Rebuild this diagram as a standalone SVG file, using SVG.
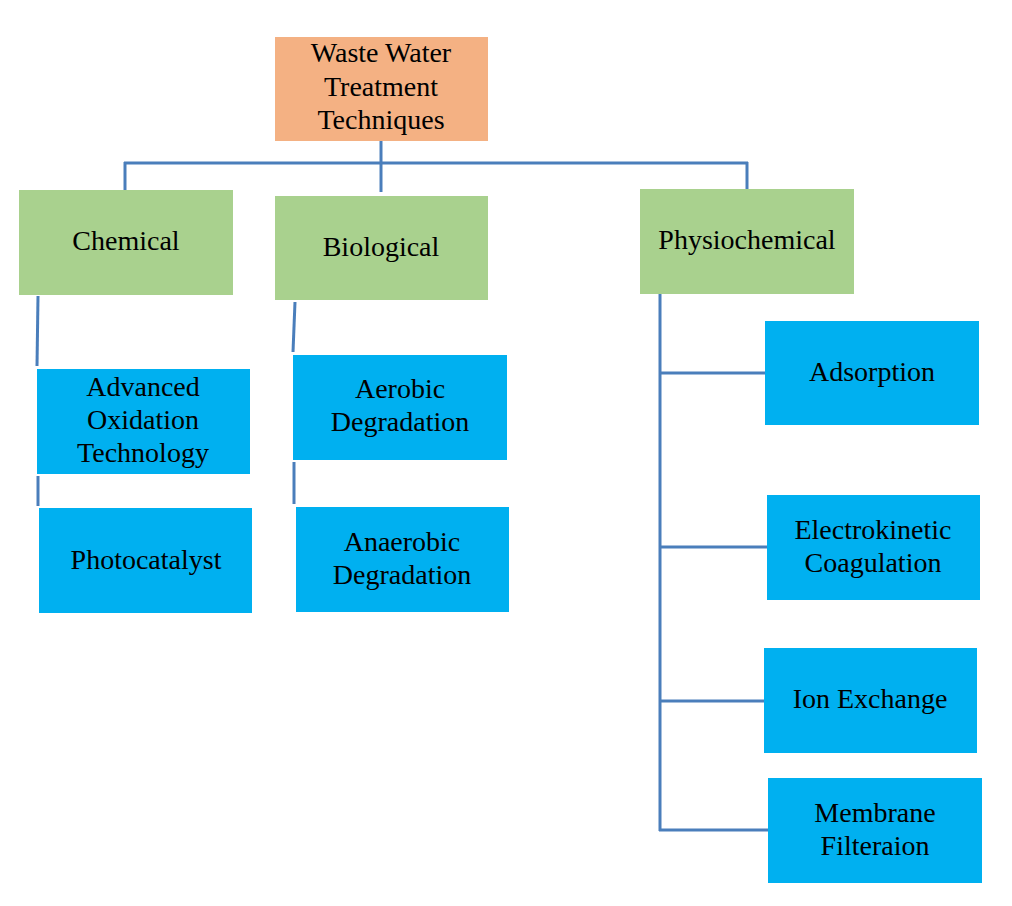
<svg xmlns="http://www.w3.org/2000/svg" width="1012" height="906" viewBox="0 0 1012 906">
<style>
text{font-family:"Liberation Serif","Times New Roman",serif;font-size:28px;fill:#000;text-anchor:middle}
.o{fill:#F4B183}.g{fill:#A9D18E}.b{fill:#00B0F0}
.c line{stroke:#4A7EBB;stroke-width:3;fill:none}
</style>
<rect width="1012" height="906" fill="#fff"/>
<g class="c" id="connectors">
<line x1="381" y1="141" x2="381" y2="192"/>
<line x1="124" y1="163" x2="748" y2="163"/>
<line x1="125" y1="162" x2="125" y2="190"/>
<line x1="747" y1="162" x2="747" y2="189"/>
<line x1="38" y1="296" x2="37" y2="366"/>
<line x1="38" y1="476" x2="38" y2="506"/>
<line x1="295" y1="302" x2="293" y2="352"/>
<line x1="294" y1="462" x2="294" y2="504"/>
<line x1="660" y1="294" x2="660" y2="831"/>
<line x1="659" y1="373" x2="765" y2="373"/>
<line x1="659" y1="547" x2="767" y2="547"/>
<line x1="659" y1="701" x2="764" y2="701"/>
<line x1="659" y1="830" x2="768" y2="830"/>
</g>
<g id="root"><rect class="o" x="275" y="37" width="213" height="104"/><text x="381" y="62">Waste Water</text><text x="381" y="96">Treatment</text><text x="381" y="129">Techniques</text></g>
<g id="chemical"><rect class="g" x="19" y="190" width="214" height="105"/><text x="126" y="250">Chemical</text></g>
<g id="biological"><rect class="g" x="275" y="196" width="213" height="104"/><text x="381" y="256">Biological</text></g>
<g id="physio"><rect class="g" x="640" y="189" width="214" height="105"/><text x="747" y="249">Physiochemical</text></g>
<g id="aot"><rect class="b" x="37" y="369" width="213" height="105"/><text x="143" y="396">Advanced</text><text x="143" y="429">Oxidation</text><text x="143" y="462">Technology</text></g>
<g id="photo"><rect class="b" x="39" y="508" width="213" height="105"/><text x="146" y="569">Photocatalyst</text></g>
<g id="aerobic"><rect class="b" x="293" y="355" width="214" height="105"/><text x="400" y="398">Aerobic</text><text x="400" y="431">Degradation</text></g>
<g id="anaerobic"><rect class="b" x="296" y="507" width="213" height="105"/><text x="402" y="551">Anaerobic</text><text x="402" y="584">Degradation</text></g>
<g id="adsorption"><rect class="b" x="765" y="321" width="214" height="104"/><text x="872" y="381">Adsorption</text></g>
<g id="electro"><rect class="b" x="767" y="495" width="213" height="105"/><text x="873" y="539">Electrokinetic</text><text x="873" y="572">Coagulation</text></g>
<g id="ion"><rect class="b" x="764" y="648" width="213" height="105"/><text x="870" y="708">Ion Exchange</text></g>
<g id="membrane"><rect class="b" x="768" y="778" width="214" height="105"/><text x="875" y="822">Membrane</text><text x="875" y="855">Filteraion</text></g>
</svg>
